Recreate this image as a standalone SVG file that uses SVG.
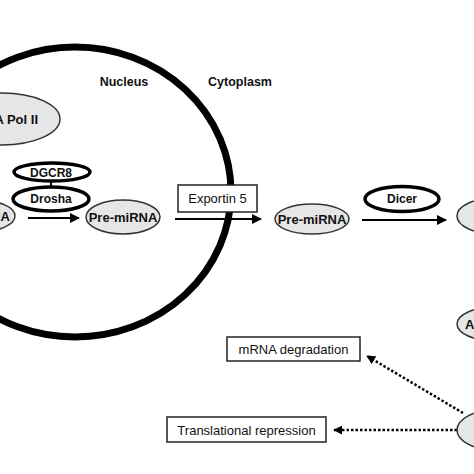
<svg xmlns="http://www.w3.org/2000/svg" width="474" height="474" viewBox="0 0 474 474">
<style>
text{font-family:"Liberation Sans",Arial,sans-serif;fill:#111}
.b{font-weight:bold}
.gray{fill:#e6e6e6;stroke:#333;stroke-width:1.5}
.enz{fill:#fff;stroke:#000;stroke-width:3.5}
.box{fill:#fff;stroke:#222;stroke-width:1.5}
.arr{stroke:#000;stroke-width:2;fill:none}
.dot{stroke:#000;stroke-width:2.5;fill:none;stroke-dasharray:2.5 2}
</style>
<defs>
<marker id="ah" viewBox="0 0 10 10" refX="9" refY="5" markerWidth="5" markerHeight="5" orient="auto" markerUnits="strokeWidth"><path d="M0,0 L10,5 L0,10 z" fill="#000"/></marker>
<marker id="dh" viewBox="0 0 10 10" refX="9" refY="5" markerWidth="3.6" markerHeight="3.6" orient="auto" markerUnits="strokeWidth"><path d="M0,0 L10,5 L0,10 z" fill="#000"/></marker>
</defs>
<rect width="474" height="474" fill="#fff"/>
<g id="nucleus-membrane"><ellipse cx="75" cy="192" rx="156" ry="145" fill="none" stroke="#000" stroke-width="7"/></g>
<g id="labels">
<text x="124" y="86" class="b" font-size="12.5" text-anchor="middle">Nucleus</text>
<text x="240" y="86" class="b" font-size="12.5" text-anchor="middle">Cytoplasm</text>
</g>
<g id="connectors">
<line x1="28" y1="218" x2="79" y2="218" class="arr" marker-end="url(#ah)"/>
<line x1="175" y1="219" x2="261" y2="219" class="arr" marker-end="url(#ah)"/>
<line x1="362" y1="220" x2="446" y2="220" class="arr" marker-end="url(#ah)"/>
<line x1="463" y1="413" x2="367" y2="356" class="dot" marker-end="url(#dh)"/>
<line x1="457" y1="430" x2="334" y2="430" class="dot" marker-end="url(#dh)"/>
<line x1="51" y1="180" x2="51" y2="187" stroke="#000" stroke-width="2"/>
</g>
<g id="rna-pol-ii"><ellipse cx="2" cy="119" rx="58" ry="26" class="gray"/><text x="38" y="124" class="b" font-size="13" text-anchor="end">RNA Pol II</text></g>
<g id="pri-mirna"><ellipse cx="-22" cy="216" rx="37" ry="16" class="gray"/><text x="10" y="221" class="b" font-size="13" text-anchor="end">Pri-miRNA</text></g>
<g id="dgcr8"><ellipse cx="52" cy="172" rx="38" ry="9" class="enz"/><text x="51" y="176.5" class="b" font-size="12" text-anchor="middle">DGCR8</text></g>
<g id="drosha"><ellipse cx="51" cy="199" rx="38" ry="12" class="enz"/><text x="51" y="203" class="b" font-size="12" text-anchor="middle">Drosha</text></g>
<g id="pre-mirna-nuc"><ellipse cx="123" cy="217" rx="37" ry="17" class="gray"/><text x="123" y="222" class="b" font-size="13" text-anchor="middle">Pre-miRNA</text></g>
<g id="exportin5"><rect x="178" y="185" width="79" height="27" class="box"/><text x="217.5" y="203" font-size="13" text-anchor="middle">Exportin 5</text></g>
<g id="pre-mirna-cyt"><ellipse cx="312" cy="219" rx="37" ry="15" class="gray"/><text x="312" y="224" class="b" font-size="13" text-anchor="middle">Pre-miRNA</text></g>
<g id="dicer"><ellipse cx="402" cy="199" rx="37" ry="12.5" class="enz"/><text x="402" y="203" class="b" font-size="12" text-anchor="middle">Dicer</text></g>
<g id="duplex"><ellipse cx="495" cy="216" rx="38" ry="18" class="gray"/></g>
<g id="ago"><ellipse cx="495" cy="324" rx="38" ry="17" class="gray"/><text x="465" y="329" class="b" font-size="13">A</text></g>
<g id="mirna-target"><ellipse cx="495" cy="430" rx="38" ry="20" class="gray"/></g>
<g id="mrna-degradation"><rect x="227" y="337" width="133" height="24" class="box"/><text x="293.5" y="354" font-size="13" text-anchor="middle">mRNA degradation</text></g>
<g id="translational-repression"><rect x="167" y="417" width="159" height="25" class="box"/><text x="246.5" y="434.5" font-size="13" text-anchor="middle">Translational repression</text></g>
</svg>
